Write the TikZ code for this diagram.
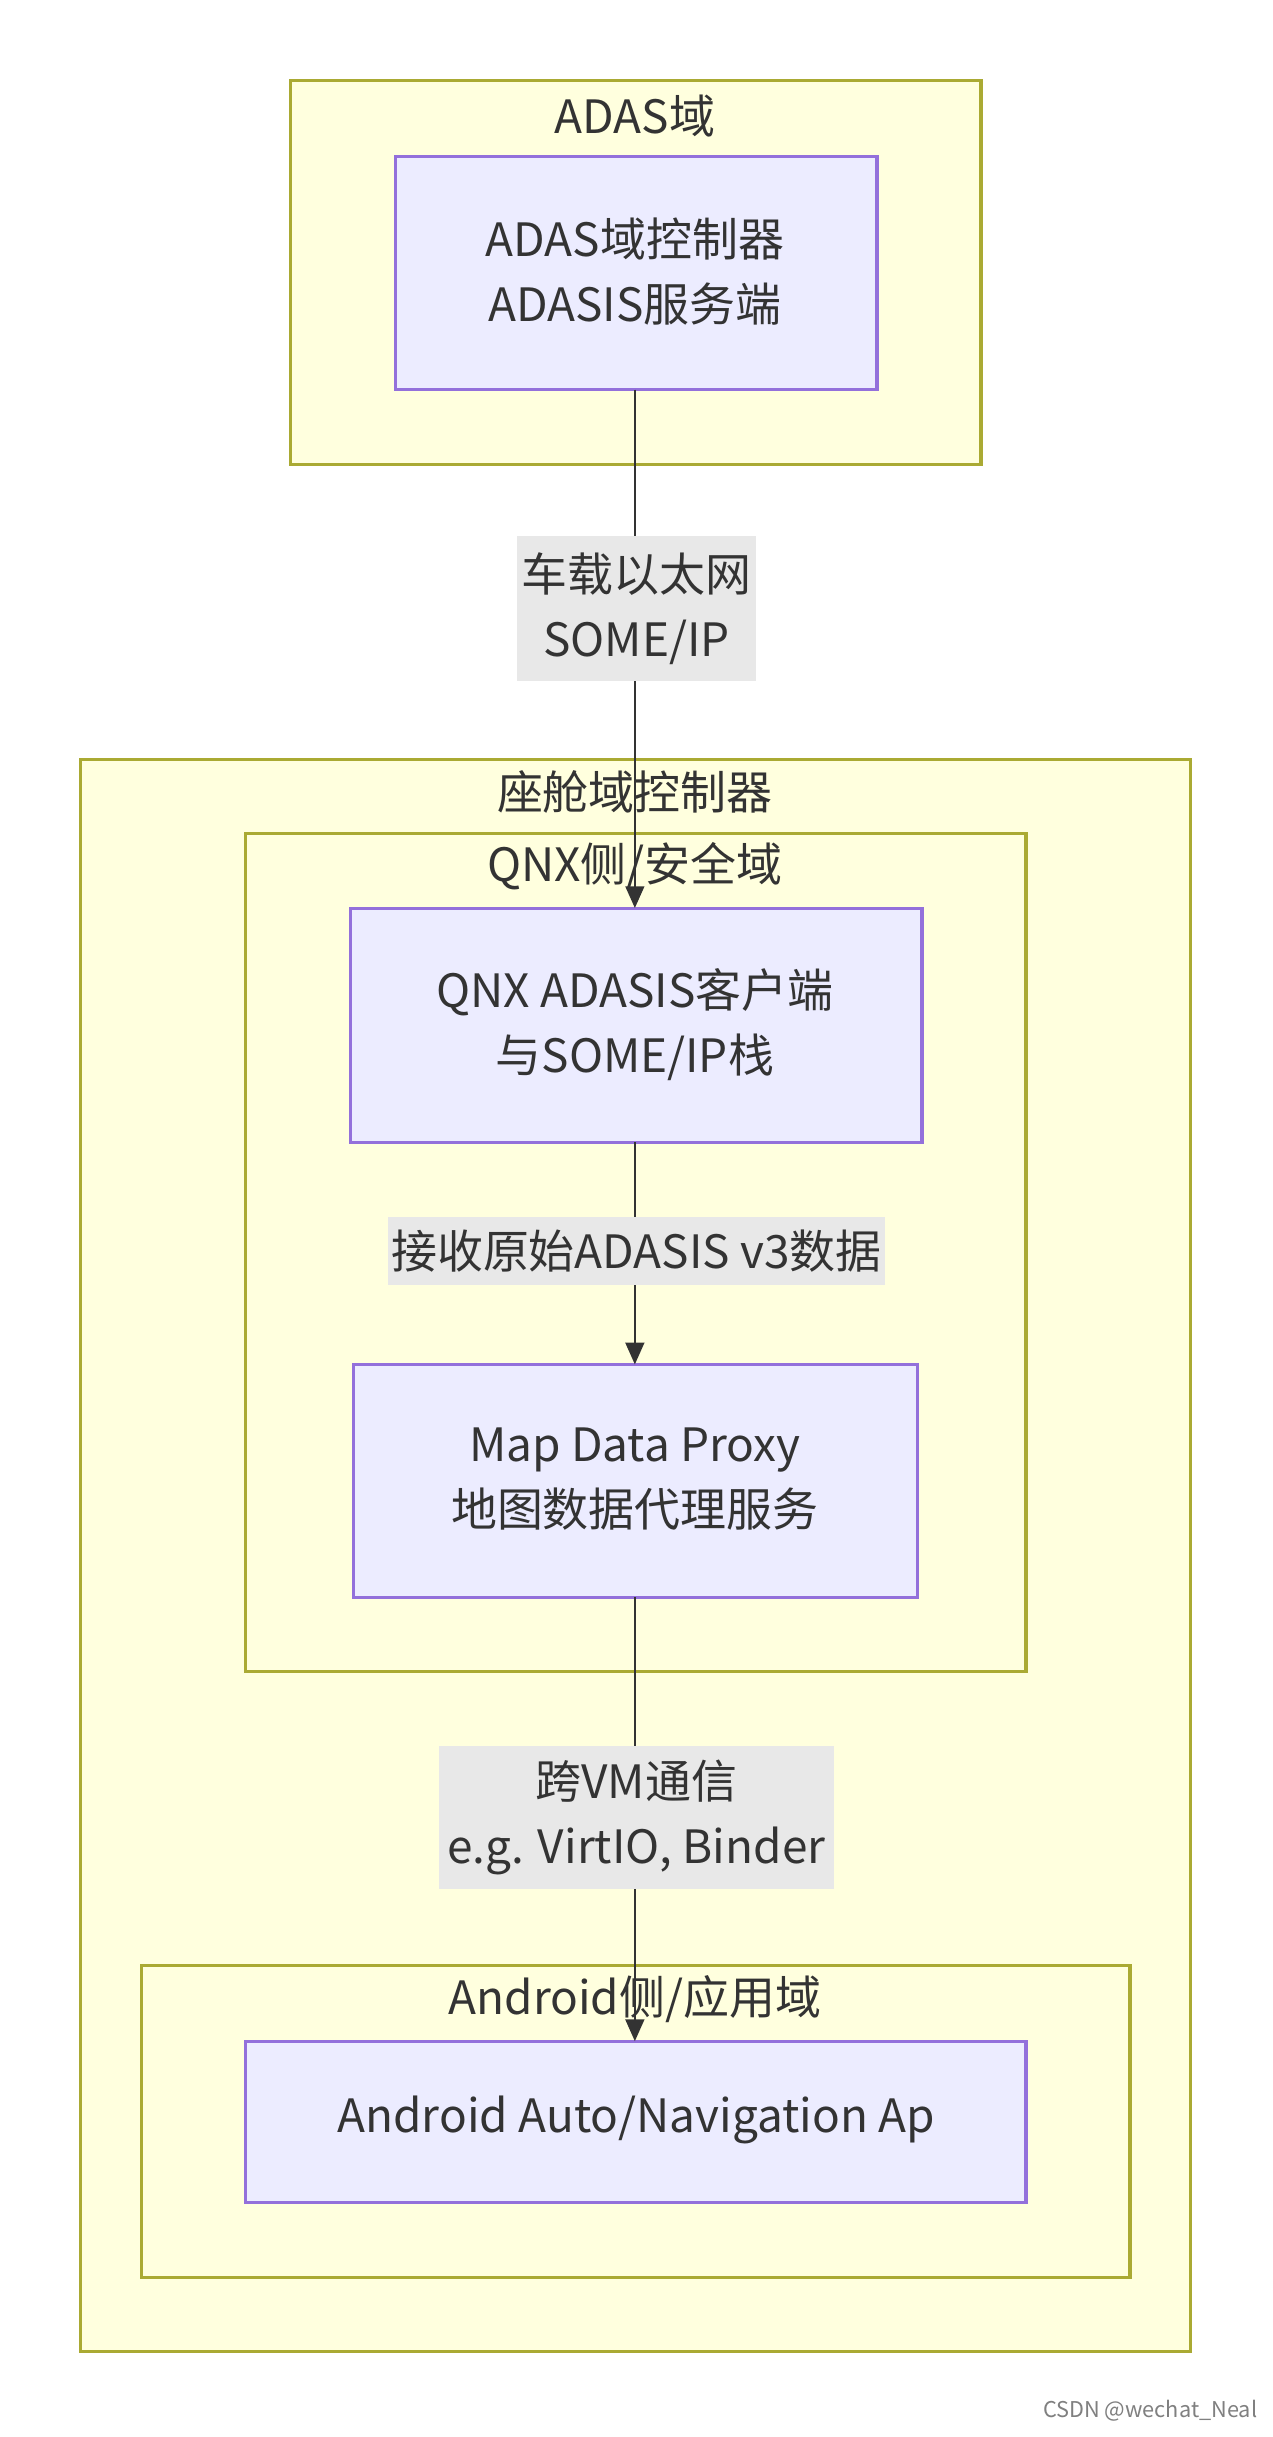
\documentclass[tikz,border=0pt]{standalone}
\usepackage{fontspec}
\setmainfont{Noto Sans CJK SC}
\usetikzlibrary{arrows.meta}
\definecolor{clfill}{HTML}{FFFFDE}
\definecolor{cldraw}{HTML}{AAAA33}
\definecolor{ndfill}{HTML}{ECECFF}
\definecolor{nddraw}{HTML}{9370DB}
\definecolor{txt}{HTML}{333333}
\definecolor{lbl}{HTML}{E8E8E8}
\tikzset{
 cluster/.style={draw=cldraw,fill=clfill,line width=1pt},
 nodebox/.style={draw=nddraw,fill=ndfill,line width=1pt},
 tx/.style={text=txt,font=\fontsize{14.8}{17}\selectfont,inner sep=0pt,align=center},
 lab/.style={fill=lbl,text=txt,font=\fontsize{14.8}{17}\selectfont,align=center},
 conn/.style={draw=txt,line width=0.8pt,-{Triangle[length=7pt,width=6pt]}}
}
\begin{document}
\begin{tikzpicture}[x=0.5pt,y=-0.5pt]
\useasboundingbox[fill=white] (0,0) rectangle (820,1570);
% clusters
\draw[cluster] (187,52) rectangle (632,299);
\node[tx] (t1) at (409,75) {ADAS域};
\draw[cluster] (52,489) rectangle (767,1515);
\node[tx] (t2) at (409,510) {座舱域控制器};
\draw[cluster] (158,537) rectangle (661,1077);
\node[tx] (t3) at (409,558) {QNX侧/安全域};
\draw[cluster] (91,1266) rectangle (728,1467);
\node[tx] (t4) at (409,1288) {Android侧/应用域};
% nodes
\draw[nodebox] (255,101) rectangle (565,251);
\coordinate (a) at (409,251);
\node[tx] (an) at (409,175) {ADAS域控制器\\[4pt]ADASIS服务端};
\draw[nodebox] (226,585) rectangle (594,736);
\coordinate (bt) at (409,585); \coordinate (bb) at (409,736);
\node[tx] (bn) at (409,660) {QNX ADASIS客户端\\[4pt]与SOME/IP栈};
\draw[nodebox] (228,879) rectangle (591,1029);
\coordinate (ct) at (409,879); \coordinate (cb) at (409,1029);
\node[tx] (cn) at (409,953) {Map Data Proxy\\[4pt]地图数据代理服务};
\draw[nodebox] (158,1315) rectangle (661,1419);
\coordinate (dt) at (409,1315);
\begin{scope}
\clip (158,1315) rectangle (603,1419);
\node[tx,anchor=west] (dn) at (217,1366) {Android Auto/Navigation App};
\end{scope}
% connectors
\draw[conn] (a) -- (bt);
\draw[conn] (bb) -- (ct);
\draw[conn] (cb) -- (dt);
% labels
\node[lab,minimum width=77pt,minimum height=47pt,inner sep=0pt] (l1) at (410,392) {车载以太网\\[4pt]SOME/IP};
\node[lab,minimum width=160pt,minimum height=22pt,inner sep=0pt] (l2) at (410,806) {接收原始ADASIS v3数据};
\node[lab,minimum width=127pt,minimum height=46pt,inner sep=0pt] (l3) at (410,1171) {跨VM通信\\[4pt]e.g. VirtIO, Binder};
\node[text=gray,font=\fontsize{7}{8}\selectfont,anchor=east] (wm) at (817,1553) {CSDN @wechat\_Neal};
\end{tikzpicture}
\end{document}
